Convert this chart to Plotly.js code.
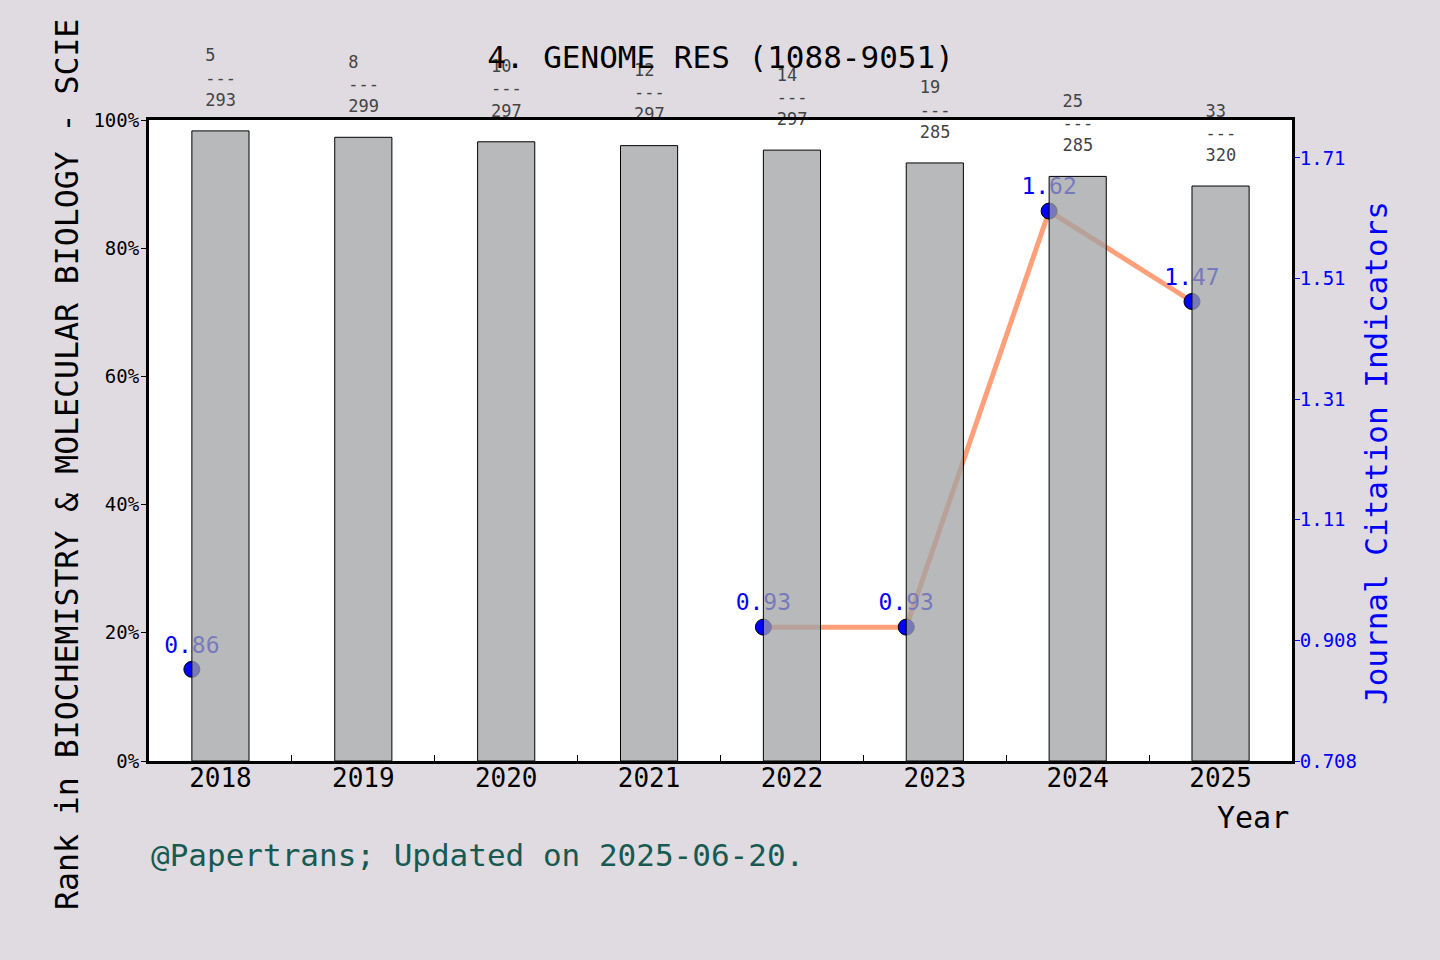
<!DOCTYPE html>
<html>
<head>
<meta charset="utf-8">
<script src="https://cdn.plot.ly/plotly-3.0.1.min.js"></script>
<style>html,body{margin:0;padding:0;background:#dfdbe0;}#chart{width:1440px;height:960px;}</style>
</head>
<body>
<div id="chart"></div>
<script>
// ---- data ----
const years = ['2018','2019','2020','2021','2022','2023','2024','2025'];
const rankPct = [98.3, 97.3, 96.6, 96.0, 95.3, 93.3, 91.2, 89.7];
const rankNum = [5, 8, 10, 12, 14, 19, 25, 33];
const rankTotal = [293, 299, 297, 297, 297, 285, 285, 320];
const jci = [0.86, null, null, null, 0.93, 0.93, 1.62, 1.47];
const jciTickVals = [0.708, 0.908, 1.108, 1.308, 1.508, 1.708];
const jciTickText = ['0.708', '0.908', '1.11', '1.31', '1.51', '1.71'];
const pctTicks = [0, 20, 40, 60, 80, 100];
const pctTickText = ['0%', '20%', '40%', '60%', '80%', '100%'];

const MONO = '"DejaVu Sans Mono", monospace';
const idx = years.map((_, i) => i);

const jciTrace = {
  type: 'scatter', mode: 'lines+markers+text',
  x: idx.map(i => i - 0.2), y: jci,
  xaxis: 'x', yaxis: 'y',
  connectgaps: false,
  line: {color: '#ffa07a', width: 5},
  marker: {color: '#0000ff', size: 16, line: {color: 'black', width: 1}},
  text: jci.map(v => v == null ? '' : v.toFixed(2)),
  textposition: 'top center',
  textfont: {family: MONO, size: 23, color: '#0000ff'},
  cliponaxis: false, hoverinfo: 'skip', showlegend: false
};

const barTrace = {
  type: 'bar', x: idx, y: rankPct, width: 0.4,
  xaxis: 'x', yaxis: 'y2',
  marker: {color: 'rgba(160,161,164,0.75)', line: {color: 'black', width: 1}},
  hoverinfo: 'skip', showlegend: false
};

// invisible anchor markers at bar tops push the stacked rank text upward
const rankTrace = {
  type: 'scatter', mode: 'markers+text',
  x: idx.map(i => i - 0.253), y: rankPct,
  xaxis: 'x', yaxis: 'y2',
  marker: {size: 32, opacity: 0, color: 'rgba(0,0,0,0)'},
  text: idx.map(i => rankNum[i] + '<br>---<br>' + rankTotal[i]),
  textposition: 'top right',
  textfont: {family: MONO, size: 17, color: '#444444'},
  cliponaxis: false, hoverinfo: 'skip', showlegend: false
};

const layout = {
  width: 1440, height: 960,
  paper_bgcolor: '#dfdbe0', plot_bgcolor: 'white',
  margin: {l: 149, r: 148, t: 120, b: 199},
  showlegend: false,
  title: {text: '4. GENOME RES (1088-9051)', x: 0.5, xref: 'paper', xanchor: 'center',
          y: 1 - 57/960, yanchor: 'middle', font: {family: MONO, size: 31, color: 'black'}},
  xaxis: {
    range: [-0.5, 7.5], tickmode: 'array', tickvals: idx, ticktext: years,
    ticks: '', showgrid: false, zeroline: false, ticklabelstandoff: -8,
    showline: true, linewidth: 3, linecolor: 'black', mirror: true,
    tickfont: {family: MONO, size: 26, color: 'black'},
    minor: {tickmode: 'array', tickvals: idx.slice(1).map(i => i - 0.5), ticks: 'inside', ticklen: 6, tickwidth: 1, tickcolor: 'black', showgrid: false}
  },
  yaxis: {
    side: 'right', range: [0.708, 1.771], tickmode: 'array', tickvals: jciTickVals, ticktext: jciTickText,
    ticks: 'outside', ticklen: 5, tickwidth: 1, tickcolor: '#0000ff', ticklabelstandoff: -4,
    tickfont: {family: MONO, size: 19, color: '#0000ff'},
    showgrid: false, zeroline: false,
    showline: true, linewidth: 3, linecolor: 'black'
  },
  yaxis2: {
    overlaying: 'y', side: 'left', range: [0, 100], tickmode: 'array', tickvals: pctTicks, ticktext: pctTickText,
    ticks: 'outside', ticklen: 5, tickwidth: 1, tickcolor: 'black', ticklabelstandoff: -2,
    tickfont: {family: MONO, size: 19, color: 'black'},
    showgrid: false, zeroline: false,
    showline: true, linewidth: 3, linecolor: 'black'
  },
  annotations: [
    {text: 'Rank in BIOCHEMISTRY & MOLECULAR BIOLOGY - SCIE', textangle: -90,
     xref: 'paper', yref: 'paper', x: (67 - 149) / 1143, y: (761 - 465) / 641,
     xanchor: 'center', yanchor: 'middle', showarrow: false,
     font: {family: MONO, size: 31.5, color: 'black'}},
    {text: 'Journal Citation Indicators', textangle: -90,
     xref: 'paper', yref: 'paper', x: (1376 - 149) / 1143, y: (761 - 453) / 641,
     xanchor: 'center', yanchor: 'middle', showarrow: false,
     font: {family: MONO, size: 31, color: '#0000ff'}},
    {text: 'Year', xref: 'paper', yref: 'paper', x: (1291 - 149) / 1143, y: (761 - 817) / 641,
     xanchor: 'right', yanchor: 'middle', showarrow: false,
     font: {family: MONO, size: 30, color: 'black'}},
    {text: '@Papertrans; Updated on 2025-06-20.', xref: 'paper', yref: 'paper',
     x: (149 - 149) / 1143, y: (761 - 855) / 641, xanchor: 'left', yanchor: 'middle', showarrow: false,
     font: {family: MONO, size: 31, color: '#165a52'}}
  ]
};

Plotly.newPlot('chart', [jciTrace, barTrace, rankTrace], layout, {displayModeBar: false, staticPlot: true});
</script>
</body>
</html>
